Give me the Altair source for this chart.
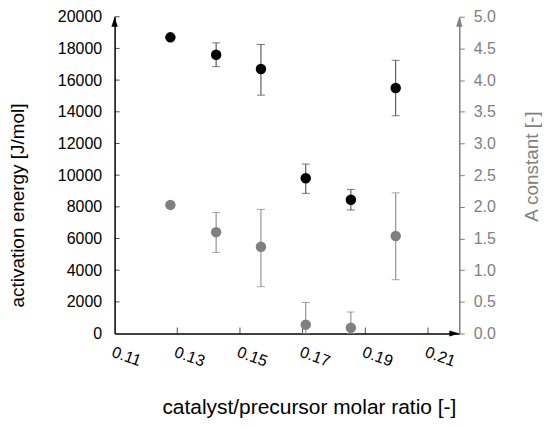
import altair as alt
import pandas as pd

# ---- data ----
ratio = [0.1278, 0.1424, 0.1567, 0.1710, 0.1854, 0.1997]
ea = [18700, 17600, 16700, 9800, 8450, 15500]
ea_lo = [18700, 16850, 15050, 8850, 7800, 13750]
ea_hi = [18700, 18350, 18250, 10700, 9100, 17250]
a_const = [2.03, 1.60, 1.37, 0.14, 0.09, 1.54]
a_lo = [2.03, 1.28, 0.74, 0.0, 0.0, 0.85]
a_hi = [2.03, 1.91, 1.96, 0.49, 0.34, 2.22]

x_ticks = [0.11, 0.13, 0.15, 0.17, 0.19, 0.21]
x_domain = [0.11, 0.22]
ea_ticks = [0, 2000, 4000, 6000, 8000, 10000, 12000, 14000, 16000, 18000, 20000]
ea_domain = [0, 20000]
a_ticks = [0.0, 0.5, 1.0, 1.5, 2.0, 2.5, 3.0, 3.5, 4.0, 4.5, 5.0]
a_domain = [0.0, 5.0]

FONT = "Liberation Sans"
BLACK = "#000000"
GRAY = "#808080"

df_ea = pd.DataFrame({"x": ratio, "v": ea, "lo": ea_lo, "hi": ea_hi})
df_a = pd.DataFrame({"x": ratio, "v": a_const, "lo": a_lo, "hi": a_hi})
df_lticks = pd.DataFrame({"x": [x_domain[0]] * (len(ea_ticks) - 1), "v": ea_ticks[1:]})
df_xticks = pd.DataFrame({"x": x_ticks[1:], "v": [ea_domain[0]] * (len(x_ticks) - 1)})
df_arrow_up_l = pd.DataFrame({"x": [x_domain[0]], "v": [ea_domain[1]]})
df_arrow_right = pd.DataFrame({"x": [x_domain[1]], "v": [ea_domain[0]]})
df_arrow_up_r = pd.DataFrame({"x": [x_domain[1]], "v": [a_domain[1]]})

x_axis = alt.Axis(
    values=x_ticks, format=".2f", labelAngle=20, labelAlign="left", labelBaseline="top",
    tickSize=0, labelPadding=10, labelFontSize=16, labelColor=BLACK, labelFont=FONT,
    domainColor=BLACK, domainWidth=1.5, grid=False,
    title="catalyst/precursor molar ratio [-]", titleFont=FONT, titleFontSize=21,
    titleFontWeight="normal", titleColor=BLACK, titlePadding=28, titleX=195,
)
left_axis = alt.Axis(
    values=ea_ticks, format="d", tickSize=0, labelPadding=13, labelFontSize=16,
    labelColor=BLACK, labelFont=FONT, domainColor=BLACK, domainWidth=1.5, grid=False,
    title="activation energy [J/mol]", titleFont=FONT, titleFontSize=19,
    titleFontWeight="normal", titleColor=BLACK, titlePadding=30, titleY=189,
)
right_axis = alt.Axis(
    orient="right", values=a_ticks, format=".1f", tickSize=5, tickColor=GRAY, tickWidth=1,
    labelPadding=9, labelFontSize=16, labelColor=GRAY, labelFont=FONT,
    domainColor=GRAY, domainWidth=1.5, grid=False,
    title="A constant [-]", titleFont=FONT, titleFontSize=19, titleFontWeight="normal",
    titleColor=GRAY, titlePadding=46, titleY=150, titleAngle=270,
)

xs = alt.Scale(domain=x_domain, nice=False, zero=False)
ys_l = alt.Scale(domain=ea_domain, nice=False)
ys_r = alt.Scale(domain=a_domain, nice=False)


def X(f="x"):
    return alt.X(f, type="quantitative", scale=xs, axis=x_axis)


def YL(f):
    return alt.Y(f, type="quantitative", scale=ys_l, axis=left_axis)


def YR(f):
    return alt.Y(f, type="quantitative", scale=ys_r, axis=right_axis)


up_path = "M0,0L0.32,1L-0.32,1Z"
right_path = "M0,0L-1,-0.3L-1,0.3Z"

# left (activation energy) layer
l_rule = alt.Chart(df_ea).mark_rule(color="#404040", strokeWidth=1).encode(x=X(), y=YL("lo"), y2="hi")
l_cap_lo = alt.Chart(df_ea).mark_tick(color="#404040", orient="horizontal", size=8, thickness=1).encode(x=X(), y=YL("lo"))
l_cap_hi = alt.Chart(df_ea).mark_tick(color="#404040", orient="horizontal", size=8, thickness=1).encode(x=X(), y=YL("hi"))
l_pts = alt.Chart(df_ea).mark_circle(color=BLACK, size=110, opacity=1).encode(x=X(), y=YL("v"))
l_ticks = alt.Chart(df_lticks).mark_tick(color=BLACK, orient="horizontal", size=5, thickness=1, xOffset=2.5).encode(x=X(), y=YL("v"))
x_inner = alt.Chart(df_xticks).mark_tick(color=BLACK, orient="vertical", size=6, thickness=1, yOffset=-3).encode(x=X(), y=YL("v"))
arrow_l = alt.Chart(df_arrow_up_l).mark_point(shape=up_path, size=400, filled=True, color=BLACK, opacity=1, strokeWidth=0).encode(x=X(), y=YL("v"))
arrow_x = alt.Chart(df_arrow_right).mark_point(shape=right_path, size=400, filled=True, color=BLACK, opacity=1, strokeWidth=0).encode(x=X(), y=YL("v"))

left = alt.layer(l_rule, l_cap_lo, l_cap_hi, l_ticks, x_inner, arrow_l, arrow_x, l_pts)

# right (A constant) layer
r_rule = alt.Chart(df_a).mark_rule(color=GRAY, strokeWidth=1).encode(x=X(), y=YR("lo"), y2="hi")
r_cap_lo = alt.Chart(df_a).mark_tick(color=GRAY, orient="horizontal", size=8, thickness=1).encode(x=X(), y=YR("lo"))
r_cap_hi = alt.Chart(df_a).mark_tick(color=GRAY, orient="horizontal", size=8, thickness=1).encode(x=X(), y=YR("hi"))
r_pts = alt.Chart(df_a).mark_circle(color=GRAY, size=110, opacity=1).encode(x=X(), y=YR("v"))
arrow_r = alt.Chart(df_arrow_up_r).mark_point(shape=up_path, size=400, filled=True, color=GRAY, opacity=1, strokeWidth=0).encode(x=X(), y=YR("v"))

right = alt.layer(r_rule, r_cap_lo, r_cap_hi, arrow_r, r_pts)

chart = alt.layer(left, right).resolve_scale(y="independent").properties(
    width=346, height=318, padding={"left": 0, "top": 0, "right": 0, "bottom": 0},
    background="white",
).configure_view(stroke=None)

chart.save("out.html", embed_options={"renderer": "svg", "actions": False})
